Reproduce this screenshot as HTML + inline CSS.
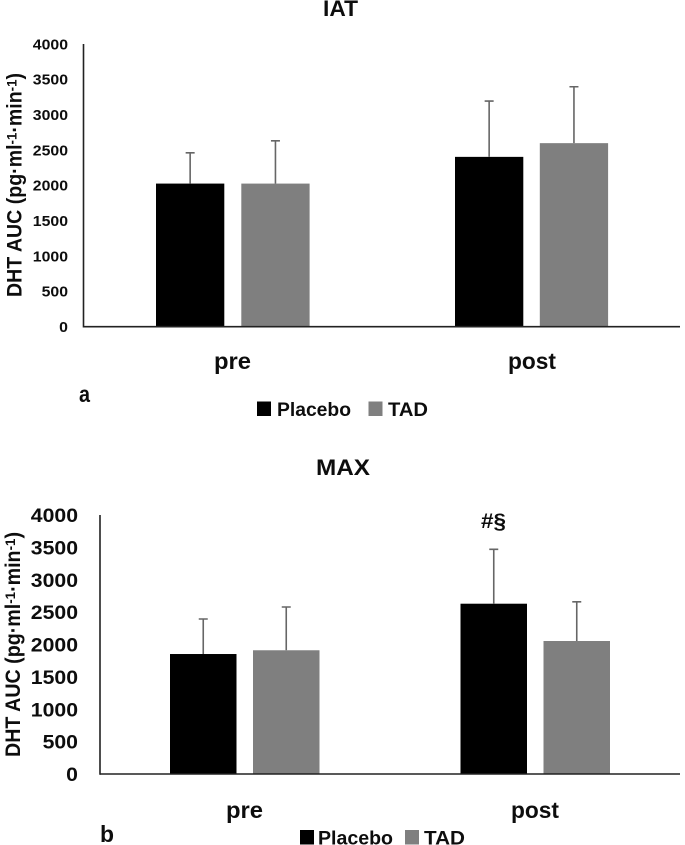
<!DOCTYPE html>
<html lang="en">
<head>
<meta charset="utf-8">
<title>DHT AUC: IAT and MAX</title>
<style>
html,body{margin:0;padding:0;background:#fff;width:685px;height:845px;overflow:hidden}
svg{display:block}
text{font-family:"Liberation Sans",sans-serif;font-weight:bold;fill:#111}
</style>
</head>
<body>
<svg id="fig" width="685" height="845" viewBox="0 0 685 845" xmlns="http://www.w3.org/2000/svg">
<defs><filter id="soft" x="-5%" y="-5%" width="110%" height="110%"><feGaussianBlur stdDeviation="0.35"/></filter></defs>
<g id="root" filter="url(#soft)"></g>
</svg>
<script>
const tickLabels = [0, 500, 1000, 1500, 2000, 2500, 3000, 3500, 4000];
const categories = ['pre', 'post'];
const seriesNames = ['Placebo', 'TAD'];
const iatPlacebo = [2025, 2403];
const iatTad = [2025, 2597];
const iatPlaceboErr = [435, 789];
const iatTadErr = [605, 798];
const maxPlacebo = [1853, 2630];
const maxTad = [1911, 2054];
const maxPlaceboErr = [541, 840];
const maxTadErr = [668, 606];

const NS = 'http://www.w3.org/2000/svg';
const root = document.getElementById('root');
const COLORS = ['#000000', '#7f7f7f'];

function make(tag, attrs, parent, content) {
  const el = document.createElementNS(NS, tag);
  for (const k in attrs) el.setAttribute(k, attrs[k]);
  if (content !== undefined) el.textContent = content;
  parent.appendChild(el);
  return el;
}

function drawPanel(p) {
  const g = make('g', {}, root);
  
  
  const y = v => p.y0 - (v / 4000) * (p.y0 - p.y1);

  const title = make('text', {x: p.titleX, y: p.titleY, 'font-size': 22.5, textLength: p.titleW, lengthAdjust: 'spacingAndGlyphs'}, g, p.title);
  
  

  tickLabels.forEach(t => {
    const w = String(t).length * p.tickDigit;
    const lab = make('text', {x: p.tickRight - w, y: y(t) + p.tickShift, 'font-size': p.tickSize, textLength: w, lengthAdjust: 'spacingAndGlyphs'}, g, String(t));
    
    
  });

  const yt = make('text', {transform: 'translate(' + p.ytX + ',' + p.ytBottom + ') rotate(-90)', x: 0, y: 0, 'font-size': p.ytSize, textLength: p.ytLen, lengthAdjust: 'spacingAndGlyphs'}, g);
  
  
  make('tspan', {}, yt, 'DHT AUC (pg·ml');
  make('tspan', {dy: -5, 'font-size': p.ytSize * 0.68}, yt, '-1');
  make('tspan', {dy: 5}, yt, '·min');
  make('tspan', {dy: -5, 'font-size': p.ytSize * 0.68}, yt, '-1');
  make('tspan', {dy: 5}, yt, ')');

  const series = [p.placebo, p.tad];
  const errs = [p.placeboErr, p.tadErr];
  categories.forEach((c, ci) => {
    series.forEach((vals, si) => {
      const x = p.barX[ci][si];
      const bar = make('rect', {x: x, y: y(vals[ci]), width: p.barW, height: p.y0 - y(vals[ci]), fill: COLORS[si]}, g);
      
      
      const cx = x + p.barW / 2;
      const top = y(vals[ci] + errs[si][ci]);
      const err = make('path', {d: 'M' + cx + ' ' + y(vals[ci]) + 'V' + top + 'M' + (cx - 4.5) + ' ' + top + 'H' + (cx + 4.5), stroke: '#666', 'stroke-width': 1.6, fill: 'none'}, g);
      
      
    });
    const lab = make('text', {x: p.catX[ci], y: p.catY, 'font-size': 23, textLength: p.catW[ci], lengthAdjust: 'spacingAndGlyphs'}, g, c);
    
    
  });

  const yAxis = make('line', {x1: p.x0, x2: p.x0, y1: p.y1, y2: p.y0 + 0.8, stroke: '#222', 'stroke-width': 1.6}, g);
  
  
  const xAxis = make('line', {x1: p.x0, x2: 680, y1: p.y0, y2: p.y0, stroke: '#222', 'stroke-width': 1.6}, g);
  
  

  const letter = make('text', {x: p.letterX, y: p.letterY, 'font-size': 23, textLength: p.letterW, lengthAdjust: 'spacingAndGlyphs'}, g, p.letter);
  
  

  seriesNames.forEach((s, si) => {
    const box = make('rect', {x: p.legSq[si], y: p.legY - 14.5, width: 14, height: 14.5, fill: COLORS[si]}, g);
    
    
    const tx = make('text', {x: p.legTx[si], y: p.legY, 'font-size': 19.5, textLength: p.legW[si], lengthAdjust: 'spacingAndGlyphs'}, g, s);
    
    
  });
}

drawPanel({
  key: 'iat', title: 'IAT', titleX: 323, titleY: 16, titleW: 35,
  x0: 83.5, y0: 326.7, y1: 44,
  placebo: iatPlacebo, tad: iatTad, placeboErr: iatPlaceboErr, tadErr: iatTadErr,
  barX: [[156, 241.3], [455, 539.8]], barW: 68.3,
  tickRight: 68, tickDigit: 8.8, tickSize: 15, tickShift: 5.3,
  ytX: 21.5, ytBottom: 297, ytLen: 224, ytSize: 21,
  catX: [214, 508], catY: 369, catW: [37, 48],
  letter: 'a', letterX: 79, letterY: 402, letterW: 11,
  legSq: [257, 368.5], legTx: [277, 388], legW: [74, 40], legY: 416
});

drawPanel({
  key: 'max', title: 'MAX', titleX: 316, titleY: 475, titleW: 54,
  x0: 100, y0: 774, y1: 515,
  placebo: maxPlacebo, tad: maxTad, placeboErr: maxPlaceboErr, tadErr: maxTadErr,
  barX: [[170, 253], [460.5, 543.5]], barW: 66.5,
  tickRight: 78, tickDigit: 11.8, tickSize: 19.5, tickShift: 7,
  ytX: 20, ytBottom: 757, ytLen: 225, ytSize: 21,
  catX: [226, 511], catY: 818, catW: [37, 48],
  letter: 'b', letterX: 100, letterY: 842, letterW: 14,
  legSq: [300, 405], legTx: [318, 424], legW: [75, 41], legY: 844.5
});

const note = make('text', {x: 481, y: 528, 'font-size': 21, textLength: 25, lengthAdjust: 'spacingAndGlyphs'}, root, '#§');


</script>
</body>
</html>
